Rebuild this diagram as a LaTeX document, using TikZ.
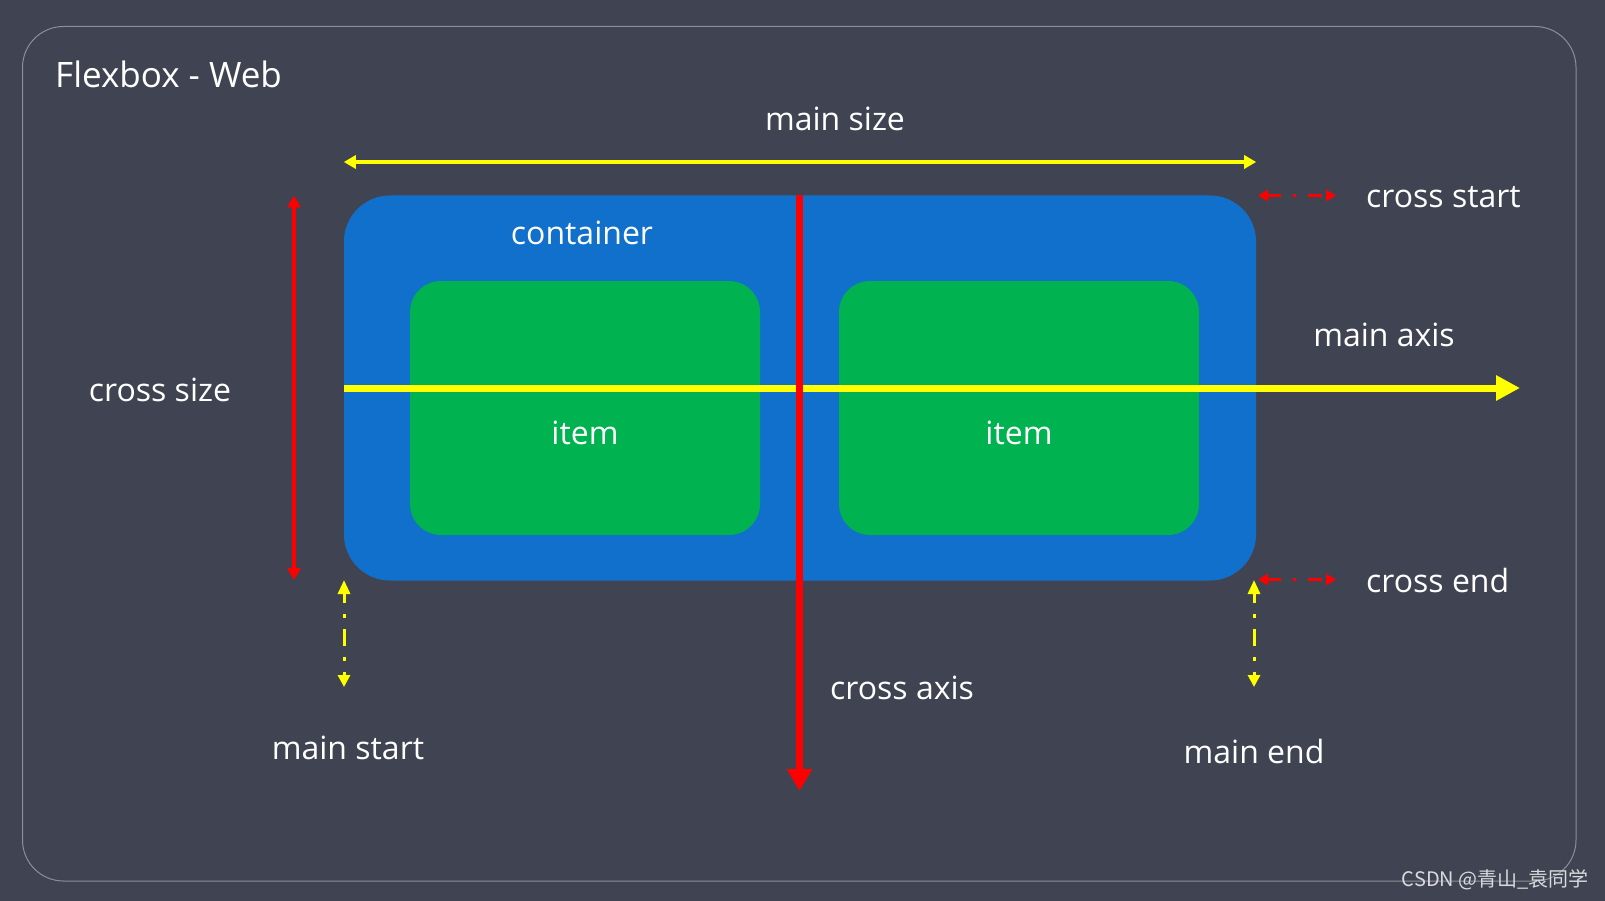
\documentclass[tikz,border=0pt]{standalone}
\usepackage{fontspec}
\setmainfont{Open Sans}
\newfontfamily\cjkfont{Noto Sans CJK SC}
\usetikzlibrary{arrows.meta,positioning}

\definecolor{slidebg}{RGB}{64,68,82}
\definecolor{frameline}{RGB}{140,143,152}
\definecolor{boxblue}{RGB}{17,112,204}
\definecolor{itemgreen}{RGB}{0,178,80}
\definecolor{axisyellow}{RGB}{255,255,0}
\definecolor{axisred}{RGB}{255,0,0}

\begin{document}
\begin{tikzpicture}[
    x=1pt, y=-1pt,
    every node/.style={font=\fontsize{32}{38}\selectfont, text=white, inner sep=0pt},
    box/.style={rectangle, rounded corners=46pt, fill=boxblue, minimum width=912pt, minimum height=385pt},
    itembox/.style={rectangle, rounded corners=31pt, fill=itemgreen, minimum height=254pt},
    axis/.style={line width=7pt},
    measure/.style={line width=3.5pt, {Triangle[length=12pt,width=13pt]}-{Triangle[length=12pt,width=13pt]}},
    crossmark/.style={draw=axisred, line width=3pt, dash pattern=on 14pt off 12pt on 3pt off 12pt,
        {Triangle[length=10pt,width=11pt]}-{Triangle[length=10pt,width=11pt]}},
    mainmark/.style={draw=axisyellow, line width=3pt,
        dash pattern=on 10pt off 11pt on 4pt off 11pt on 17pt off 11pt on 4pt off 11pt,
        {Triangle[length=14pt,width=12pt]}-{Triangle[length=12pt,width=12pt]}}
]

% Background and frame
\fill[slidebg] (0,0) rectangle (1605,901);
\useasboundingbox (0,0) rectangle (1605,901);
\draw[frameline, line width=1pt, rounded corners=41pt] (22.5,26.5) rectangle (1576,881);

\node[anchor=west, font=\fontsize{35}{42}\selectfont] (title) at (55,74) {Flexbox - Web};

% Container and items
\node[box] (container) at (800,388) {};
\node[itembox, minimum width=350pt] (item1) at (585,408) {};
\node[itembox, minimum width=360pt] (item2) at (1019,408) {};
\node (containerlbl) at (582,233) {container};
\node (item1lbl) at (585,433) {item};
\node (item2lbl) at (1019,433) {item};

% Axes
\coordinate (mainend) at (1520,388);
\coordinate (crossend) at (799.5,791);
\draw[axis, axisyellow, -{Triangle[length=24pt,width=24pt]}] (container.west) -- (mainend);
\draw[axis, axisred, -{Triangle[length=22pt,width=24pt]}] (container.north -| crossend) -- (crossend);
\node (mainaxislbl) at (1384,335) {main axis};
\node[anchor=west] (crossaxislbl) at (830,688) {cross axis};

% Sizes
\draw[measure, axisyellow] (container.north west |- 0,162) -- (container.north east |- 0,162);
\node (mainsizelbl) at (835,119) {main size};
\draw[measure, axisred] (294,195.5) -- (294,580);
\node (crosssizelbl) at (160,390) {cross size};

% Start / end markers
\coordinate (cs1) at (1258,195.5);
\coordinate (cs2) at (1336,195.5);
\draw[crossmark] (cs1) -- (cs2);
\node[anchor=west] (crossstartlbl) at (1366,197) {cross start};
\coordinate (ce1) at (1258,579.5);
\coordinate (ce2) at (1336,579.5);
\draw[crossmark] (ce1) -- (ce2);
\node[anchor=west] (crossendlbl) at (1366,580) {cross end};

\coordinate (ms1) at (344,580);
\coordinate (ms2) at (344,687);
\draw[mainmark] (ms1) -- (ms2);
\node (mainstartlbl) at (348,748) {main start};
\coordinate (me1) at (1254,580);
\coordinate (me2) at (1254,687);
\draw[mainmark] (me1) -- (me2);
\node (mainendlbl) at (1254,751) {main end};

% Watermark
\node[anchor=east, font=\cjkfont\fontsize{20}{22}\selectfont, text=white!80!slidebg] (mark) at (1589,880) {CSDN @青山\_袁同学};

\end{tikzpicture}
\end{document}
